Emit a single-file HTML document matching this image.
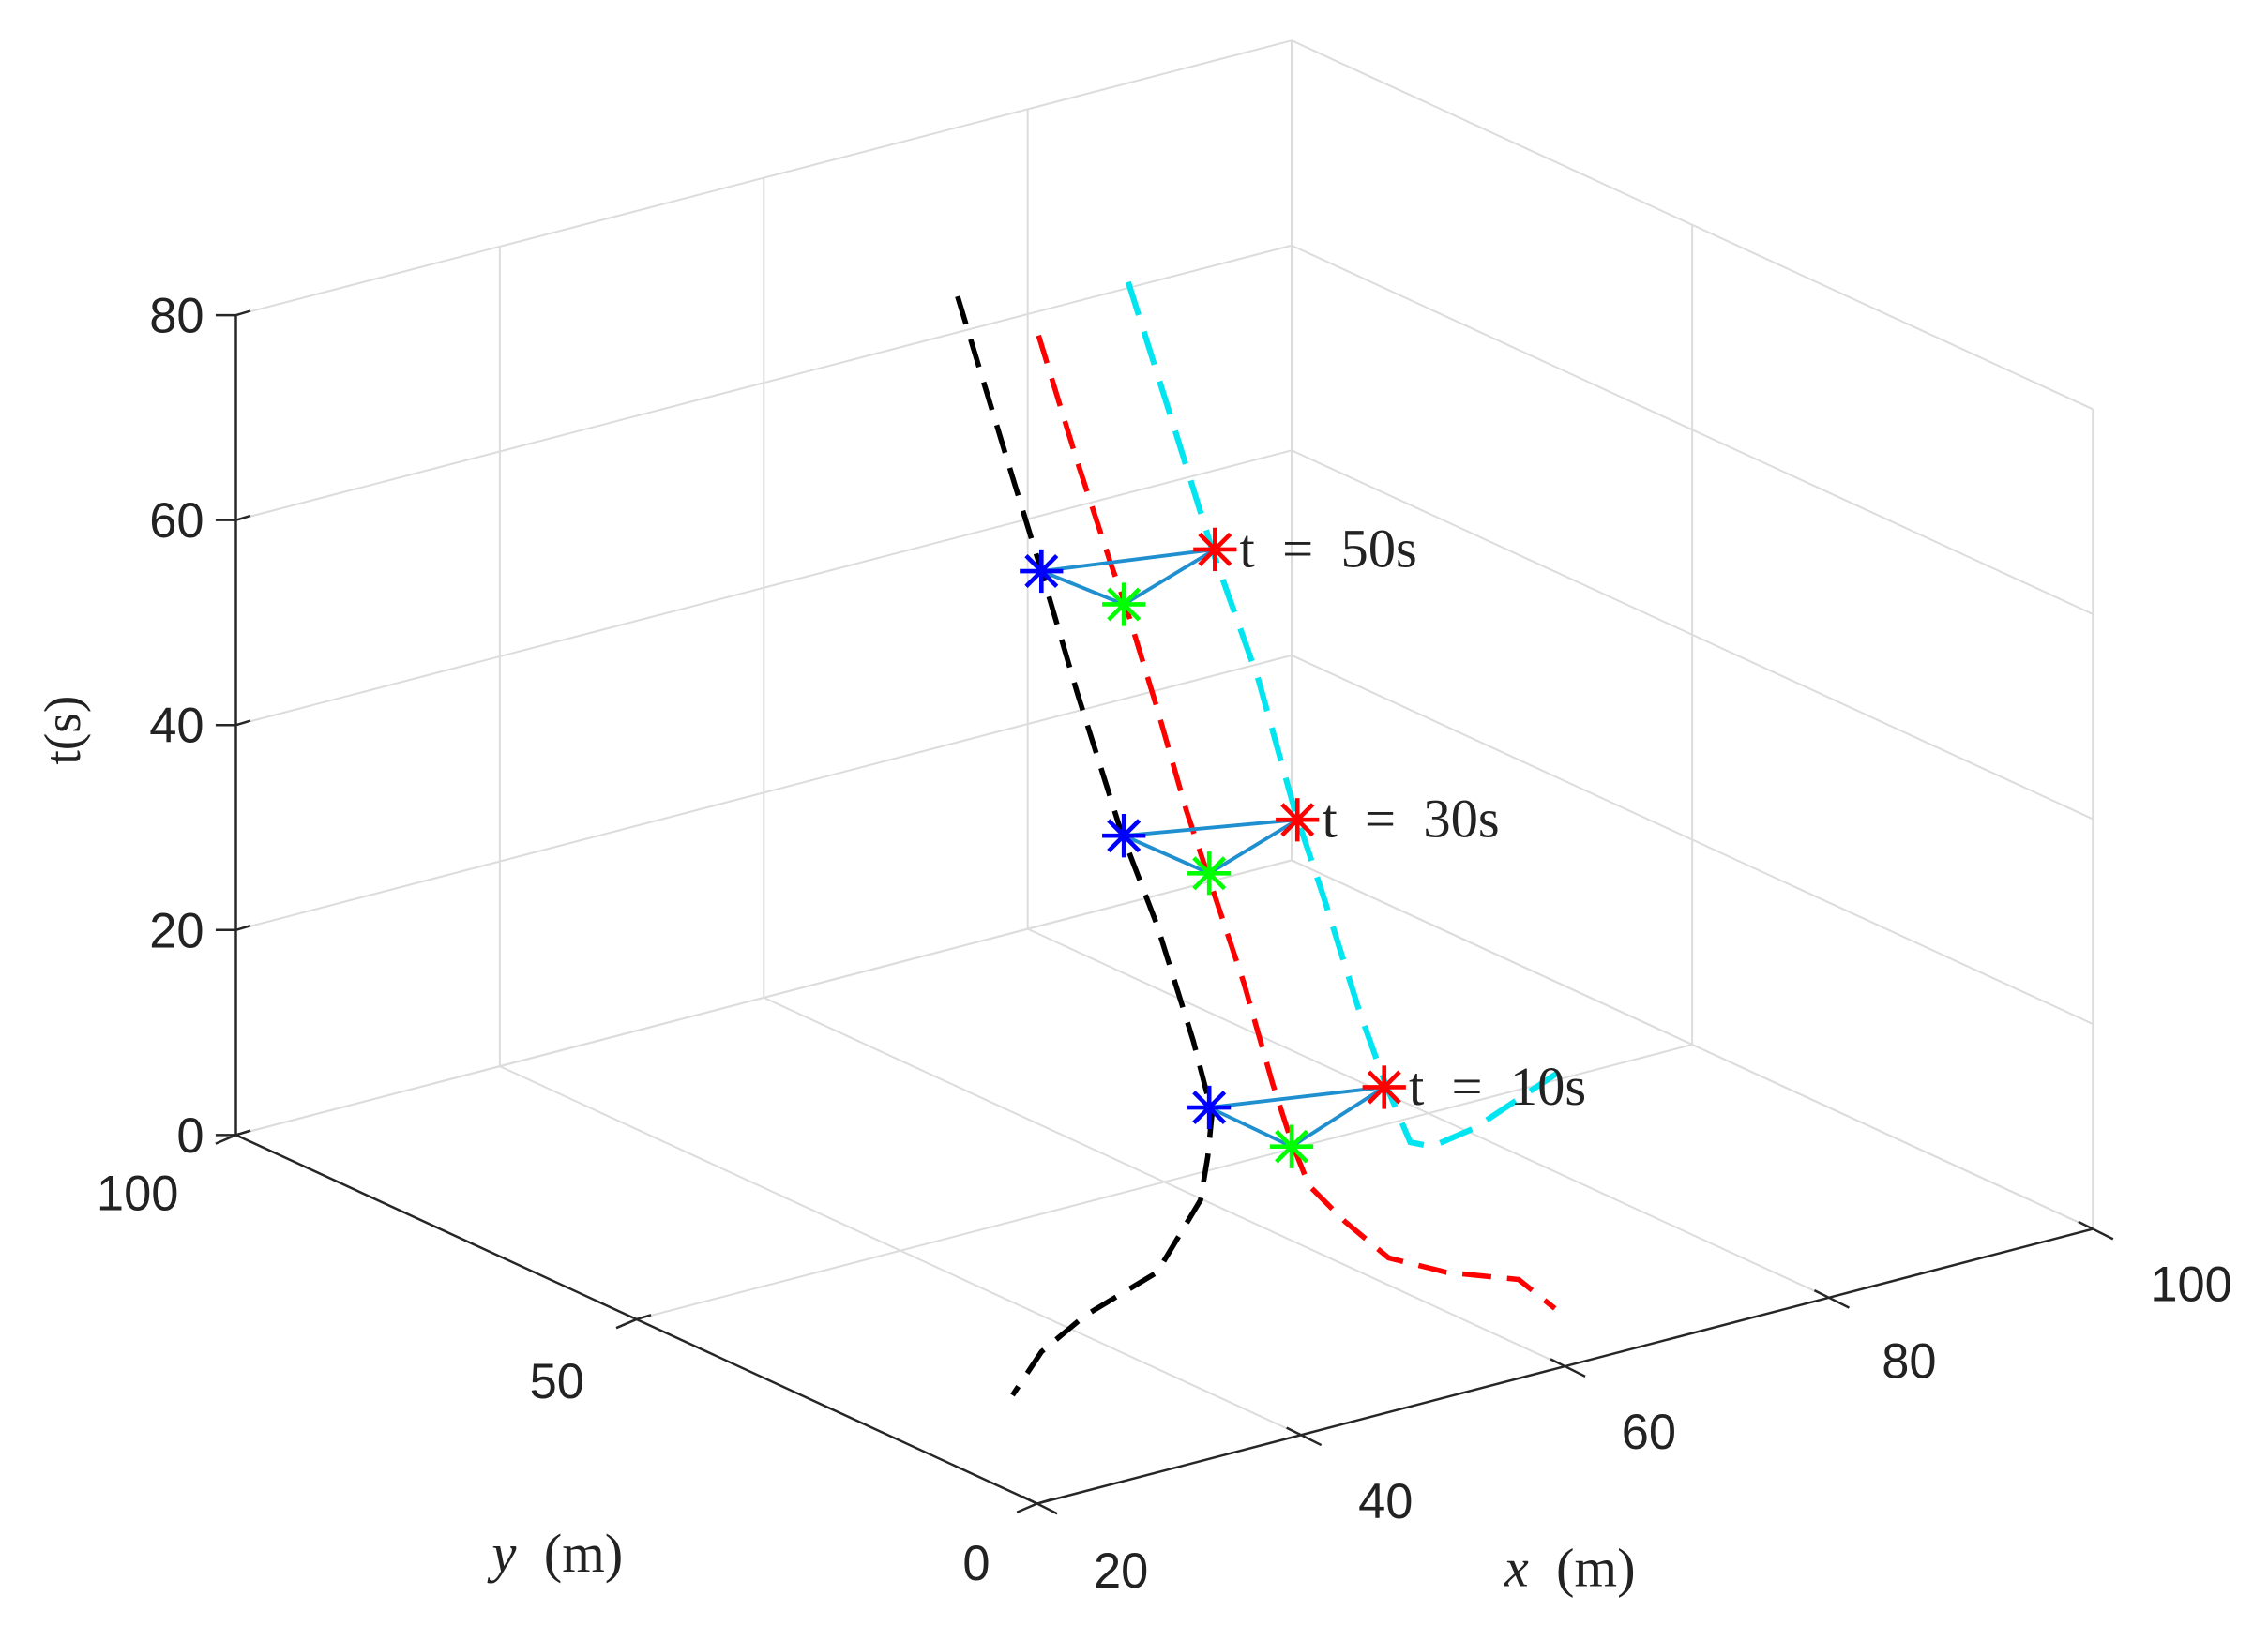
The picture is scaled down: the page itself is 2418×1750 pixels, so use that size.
<!DOCTYPE html>
<html><head><meta charset="utf-8"><style>
html,body{margin:0;padding:0;background:#fff;}
svg{display:block;}
text{font-family:"Liberation Sans",sans-serif;fill:#222;}
.s{font-family:"Liberation Serif",serif;}
</style></head><body>
<svg width="2418" height="1750" viewBox="0 0 1568 1135" xmlns="http://www.w3.org/2000/svg">
<g id="grid" stroke="#dcdcdc" stroke-width="1.3" fill="none"></g>
<g id="axes" stroke="#262626" stroke-width="1.6" fill="none"></g>
<g id="labels" font-size="34"></g>
<g fill="none" stroke-width="3.6" stroke-dasharray="20,11">
<polyline stroke="#000" points="662,205 700,330 720,395 745,480 775,575 800,640 825,720 838,770 835,800 830,830 815,855 800,880 750,910 720,935 700,965"/>
<polyline stroke="#ff0000" points="718,232 745,320 768,390 778,418 800,490 820,560 835,605 860,680 880,750 893,790 905,820 930,845 960,870 1000,880 1050,885 1075,905"/>
<polyline stroke="#00e5f0" stroke-width="4" stroke-dasharray="24,12" points="780,195 810,290 838,380 870,470 895,560 915,620 940,700 958,750 975,790 990,793 1020,780 1050,760 1080,740"/>
</g>
<g stroke="#1f8fd0" stroke-width="2.5" fill="none">
<polygon points="720,395 840,380 777,418"/>
<polygon points="777,578 897,567 836,604"/>
<polygon points="836,766 957,752 893,793"/>
</g>
<g id="marks" stroke-width="3"></g>
<g class="s" font-size="38">
<text class="s" x="857" y="392" xml:space="preserve">t  =  50s</text>
<text class="s" x="914" y="579" xml:space="preserve">t  =  30s</text>
<text class="s" x="974" y="764" xml:space="preserve">t  =  10s</text>
</g>
<text x="0" y="0" font-size="36" transform="translate(55,505) rotate(-90)" text-anchor="middle" class="s">t(s)</text>
<text class="s" x="340" y="1087" font-size="38" xml:space="preserve"><tspan font-style="italic">y</tspan>  (m)</text>
<text class="s" x="1040" y="1097" font-size="38" xml:space="preserve"><tspan font-style="italic">x</tspan>  (m)</text>
<script>
function P(x,y,t){return [717+(x-20)/80*730-y/100*554, 1040-(x-20)/80*190-y/100*255-t/80*567];}
const ns="http://www.w3.org/2000/svg";
function L(g,a,b,extra){const l=document.createElementNS(ns,"line");l.setAttribute("x1",a[0]);l.setAttribute("y1",a[1]);l.setAttribute("x2",b[0]);l.setAttribute("y2",b[1]);if(extra)l.setAttribute("stroke",extra);document.getElementById(g).appendChild(l);}
function T(txt,x,y,anchor){const t=document.createElementNS(ns,"text");t.setAttribute("x",x);t.setAttribute("y",y);t.setAttribute("text-anchor",anchor||"middle");t.textContent=txt;document.getElementById("labels").appendChild(t);}
const xs=[20,40,60,80,100],ys=[0,50,100],ts=[0,20,40,60,80];
xs.forEach(x=>L("grid",P(x,0,0),P(x,100,0)));
ys.forEach(y=>L("grid",P(20,y,0),P(100,y,0)));
xs.forEach(x=>L("grid",P(x,100,0),P(x,100,80)));
ts.forEach(t=>L("grid",P(20,100,t),P(100,100,t)));
ys.forEach(y=>L("grid",P(100,y,0),P(100,y,80)));
ts.forEach(t=>L("grid",P(100,0,t),P(100,100,t)));
L("axes",P(20,0,0),P(100,0,0));
L("axes",P(20,0,0),P(20,100,0));
L("axes",P(20,100,0),P(20,100,80));
ts.forEach(t=>{const p=P(20,100,t);L("axes",p,[p[0]+10,p[1]-3]);L("axes",p,[p[0]-14,p[1]]);T(String(t),p[0]-22,p[1]+12,"end");});
xs.forEach(x=>{const p=P(x,0,0);L("axes",p,[p[0]-10,p[1]-5]);L("axes",p,[p[0]+14,p[1]+7]);});
ys.forEach(y=>{const p=P(20,y,0);L("axes",p,[p[0]+10,p[1]-3]);L("axes",p,[p[0]-14,p[1]+6]);});
[[20,775,1098],[40,958,1050],[60,1140,1002],[80,1320,953],[100,1515,900]].forEach(a=>T(String(a[0]),a[1],a[2]));
[[100,95,837],[50,385,967],[0,675,1093]].forEach(a=>T(String(a[0]),a[1],a[2]));
function star(x,y,c){const g=document.getElementById("marks");for(let i=0;i<4;i++){const a=i*Math.PI/4,r=15;const l=document.createElementNS(ns,"line");l.setAttribute("x1",x-r*Math.cos(a));l.setAttribute("y1",y-r*Math.sin(a));l.setAttribute("x2",x+r*Math.cos(a));l.setAttribute("y2",y+r*Math.sin(a));l.setAttribute("stroke",c);g.appendChild(l);}}
[[720,395],[777,578],[836,766]].forEach(p=>star(p[0],p[1],"#0000ff"));
[[777,418],[836,604],[893,793]].forEach(p=>star(p[0],p[1],"#00ff00"));
[[840,380],[897,567],[957,752]].forEach(p=>star(p[0],p[1],"#ff0000"));
</script>
</svg>
</body></html>
